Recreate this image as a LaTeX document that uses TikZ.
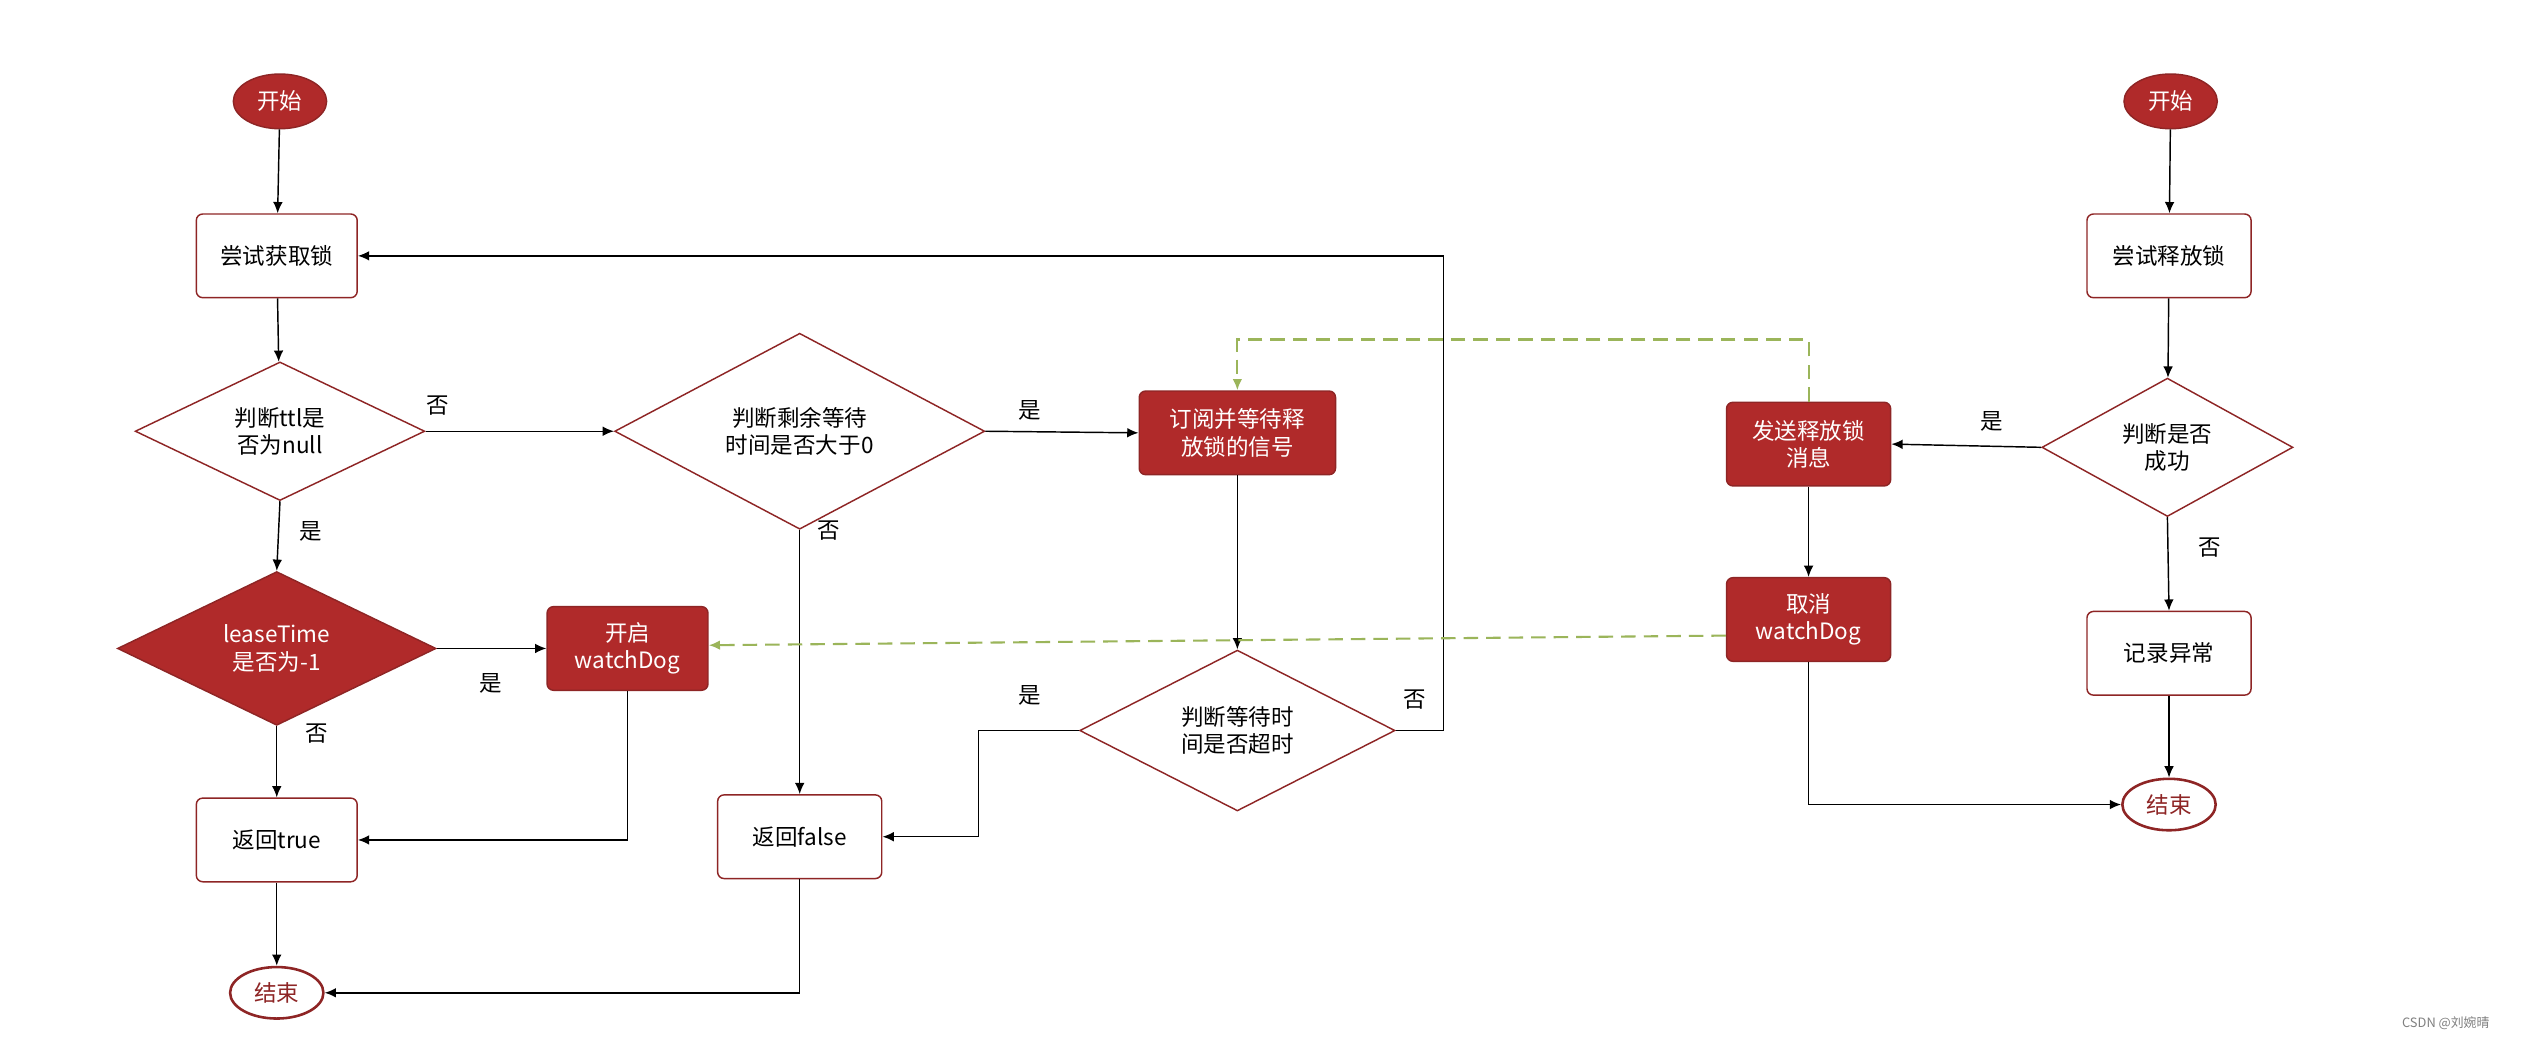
\documentclass[tikz,border=0pt]{standalone}
\usepackage{fontspec}
\setmainfont{Noto Sans CJK SC}
\usetikzlibrary{shapes.geometric,arrows.meta}
\definecolor{dred}{HTML}{B02A2A}
\definecolor{bred}{HTML}{8E2525}
\definecolor{dgreen}{HTML}{9BB55A}
\begin{document}
\begin{tikzpicture}[x=1pt,y=-1pt,
  font=\fontsize{14}{17}\selectfont,
  every path/.style={line width=0.9pt},
  arr/.style={-{Latex[length=7pt,width=6pt]},draw=black},
  garr/.style={-{Latex[length=7pt,width=6pt]},draw=dgreen,dashed,dash pattern=on 9pt off 5pt,line width=1.3pt},
  box/.style={draw=bred,fill=white,rounded corners=4pt,minimum width=100pt,minimum height=52pt,align=center,inner sep=2pt},
  dbox/.style={draw=bred,fill=dred,text=white,rounded corners=4pt,minimum width=102pt,minimum height=52pt,align=center,inner sep=2pt},
  dia/.style={diamond,draw=bred,fill=white,align=center,inner sep=0pt},
  ddia/.style={diamond,draw=bred,fill=dred,text=white,align=center,inner sep=0pt},
  st/.style={ellipse,draw=bred,fill=dred,text=white,minimum width=58pt,minimum height=34pt,inner sep=0pt},
  en/.style={ellipse,draw=bred,line width=1.6pt,fill=white,text=bred,minimum width=58pt,minimum height=32pt,inner sep=0pt},
  lab/.style={font=\fontsize{14}{17}\selectfont}]
\useasboundingbox[fill=white] (0,0) rectangle (1568,648);
% left
\node[st] (s1) at (174,63) {开始};
\node[box] (t1) at (172,159) {尝试获取锁};
\node[dia,minimum width=180pt,minimum height=62pt] (d1) at (174,268) {判断ttl是\\否为null};
\node[dia,minimum width=230pt,minimum height=64pt] (d2) at (497,268) {判断剩余等待\\时间是否大于0};
\node[dbox,minimum width=122pt] (sub) at (769,269) {订阅并等待释\\放锁的信号};
\node[ddia,minimum width=198pt,minimum height=62pt] (d3) at (172,403) {leaseTime\\是否为-1};
\node[dbox,minimum width=100pt] (wd) at (390,403) {开启\\watchDog};
\node[dia,minimum width=196pt,minimum height=64pt] (d4) at (769,454) {判断等待时\\间是否超时};
\node[box] (rt) at (172,522) {返回true};
\node[box,minimum width=102pt] (rf) at (497,520) {返回false};
\node[en] (e1) at (172,617) {结束};
% right
\node[st] (s2) at (1349,63) {开始};
\node[box,minimum width=102pt] (t2) at (1348,159) {尝试释放锁};
\node[dia,minimum width=156pt,minimum height=66pt] (d5) at (1347,278) {判断是否\\成功};
\node[dbox] (snd) at (1124,276) {发送释放锁\\消息};
\node[dbox] (cn) at (1124,385) {取消\\watchDog};
\node[box,minimum width=102pt] (lg) at (1348,406) {记录异常};
\node[en] (e2) at (1348,500) {结束};
% edges left
\draw[arr] (s1) -- (t1);
\draw[arr] (t1) -- (d1);
\draw[arr] (d1.east) -- (d2.west);
\node[lab] at (272,252) {否};
\draw[arr] (d2.east) -- (sub.west);
\node[lab] at (640,255) {是};
\draw[arr] (d2.south) -- (rf.north);
\node[lab] at (515,330) {否};
\draw[arr] (d1.south) -- (d3.north);
\node[lab] at (193,330) {是};
\draw[arr] (d3.east) -- (wd.west);
\node[lab] at (305,425) {是};
\draw[arr] (d3.south) -- (rt.north);
\node[lab] at (197,456) {否};
\draw[arr] (wd.south) |- (rt.east);
\draw[arr] (sub.south) -- (d4.north);
\coordinate (c1) at (608,454);
\draw[arr] (d4.west) -- (c1) |- (rf.east);
\node[lab] at (640,432) {是};
\coordinate (c2) at (897,454);
\draw[arr] (d4.east) -- (c2) |- (t1.east);
\node[lab] at (879,435) {否};
\draw[arr] (rt) -- (e1);
\draw[arr] (rf.south) |- (e1.east);
% edges right
\draw[arr] (s2) -- (t2);
\draw[arr] (t2) -- (d5);
\draw[arr] (d5.west) -- (snd.east);
\node[lab] at (1238,262) {是};
\draw[arr] (d5.south) -- (lg.north);
\node[lab] at (1373,340) {否};
\draw[arr] (snd) -- (cn);
\draw[arr] (lg) -- (e2);
\draw[arr] (cn.south) |- (e2.west);
% green dashed
\coordinate (g1) at (1124,211);
\draw[garr] (snd.north) -- (g1) -| (sub.north);
\draw[garr] (cn.west |- 0,395) -- (wd.east |- 0,401);
\node[text=gray,font=\fontsize{8}{10}\selectfont] at (1520,636) {CSDN @刘婉晴};
\end{tikzpicture}
\end{document}
